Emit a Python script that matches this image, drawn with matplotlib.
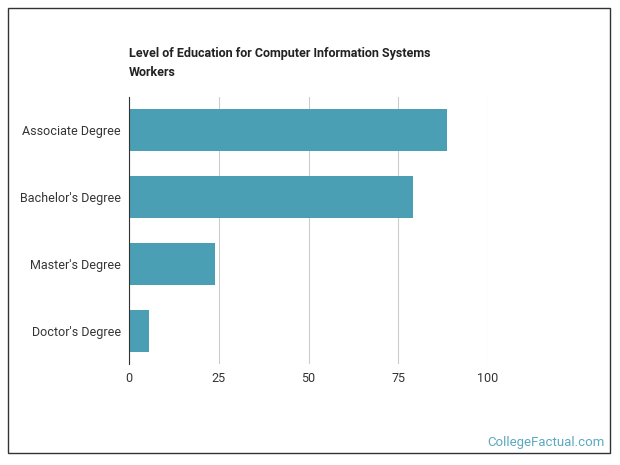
import matplotlib.pyplot as plt
from matplotlib.patches import Rectangle

plt.rcParams['font.family'] = 'Roboto'

degrees = ["Associate Degree", "Bachelor's Degree", "Master's Degree", "Doctor's Degree"]
values = [88.6, 79.1, 24.0, 5.6]
ticks = [0, 25, 50, 75, 100]

fig = plt.figure(figsize=(6.2, 4.65), dpi=100)
fig.patches.append(Rectangle((8 / 620, 1 - 453 / 465), 602 / 620, 445 / 465,
                             transform=fig.transFigure, fill=False,
                             edgecolor='#333333', linewidth=1))

ax = fig.add_axes([129 / 620, 1 - 364 / 465, 359 / 620, 267 / 465])
pos = list(range(len(degrees)))
ax.barh(pos, values, height=0.63, color='#4a9fb5', zorder=2)
ax.set_ylim(len(degrees) - 0.5, -0.5)
ax.set_xlim(0, 100)
ax.set_yticks(pos)
ax.set_yticklabels(degrees, fontsize=9, color='#333333')
ax.set_xticks(ticks)
ax.set_xticklabels([str(t) for t in ticks], fontsize=9, color='#333333')
ax.tick_params(length=0, pad=6)
ax.grid(axis='x', color='#cccccc', linewidth=0.8, zorder=0)
for s in ['top', 'right', 'bottom']:
    ax.spines[s].set_visible(False)
ax.spines['left'].set_color('#333333')

fig.text(129 / 620, 1 - 63 / 465, "Level of Education for Computer Information Systems\nWorkers",
         fontsize=9, fontweight='bold', va='center', ha='left', color='#222222', linespacing=1.6)
fig.text(605 / 620, 1 - 442 / 465, "CollegeFactual.com", fontsize=9.5,
         color='#5aa8c0', ha='right', va='center')

fig.savefig('out.png', dpi=100)
